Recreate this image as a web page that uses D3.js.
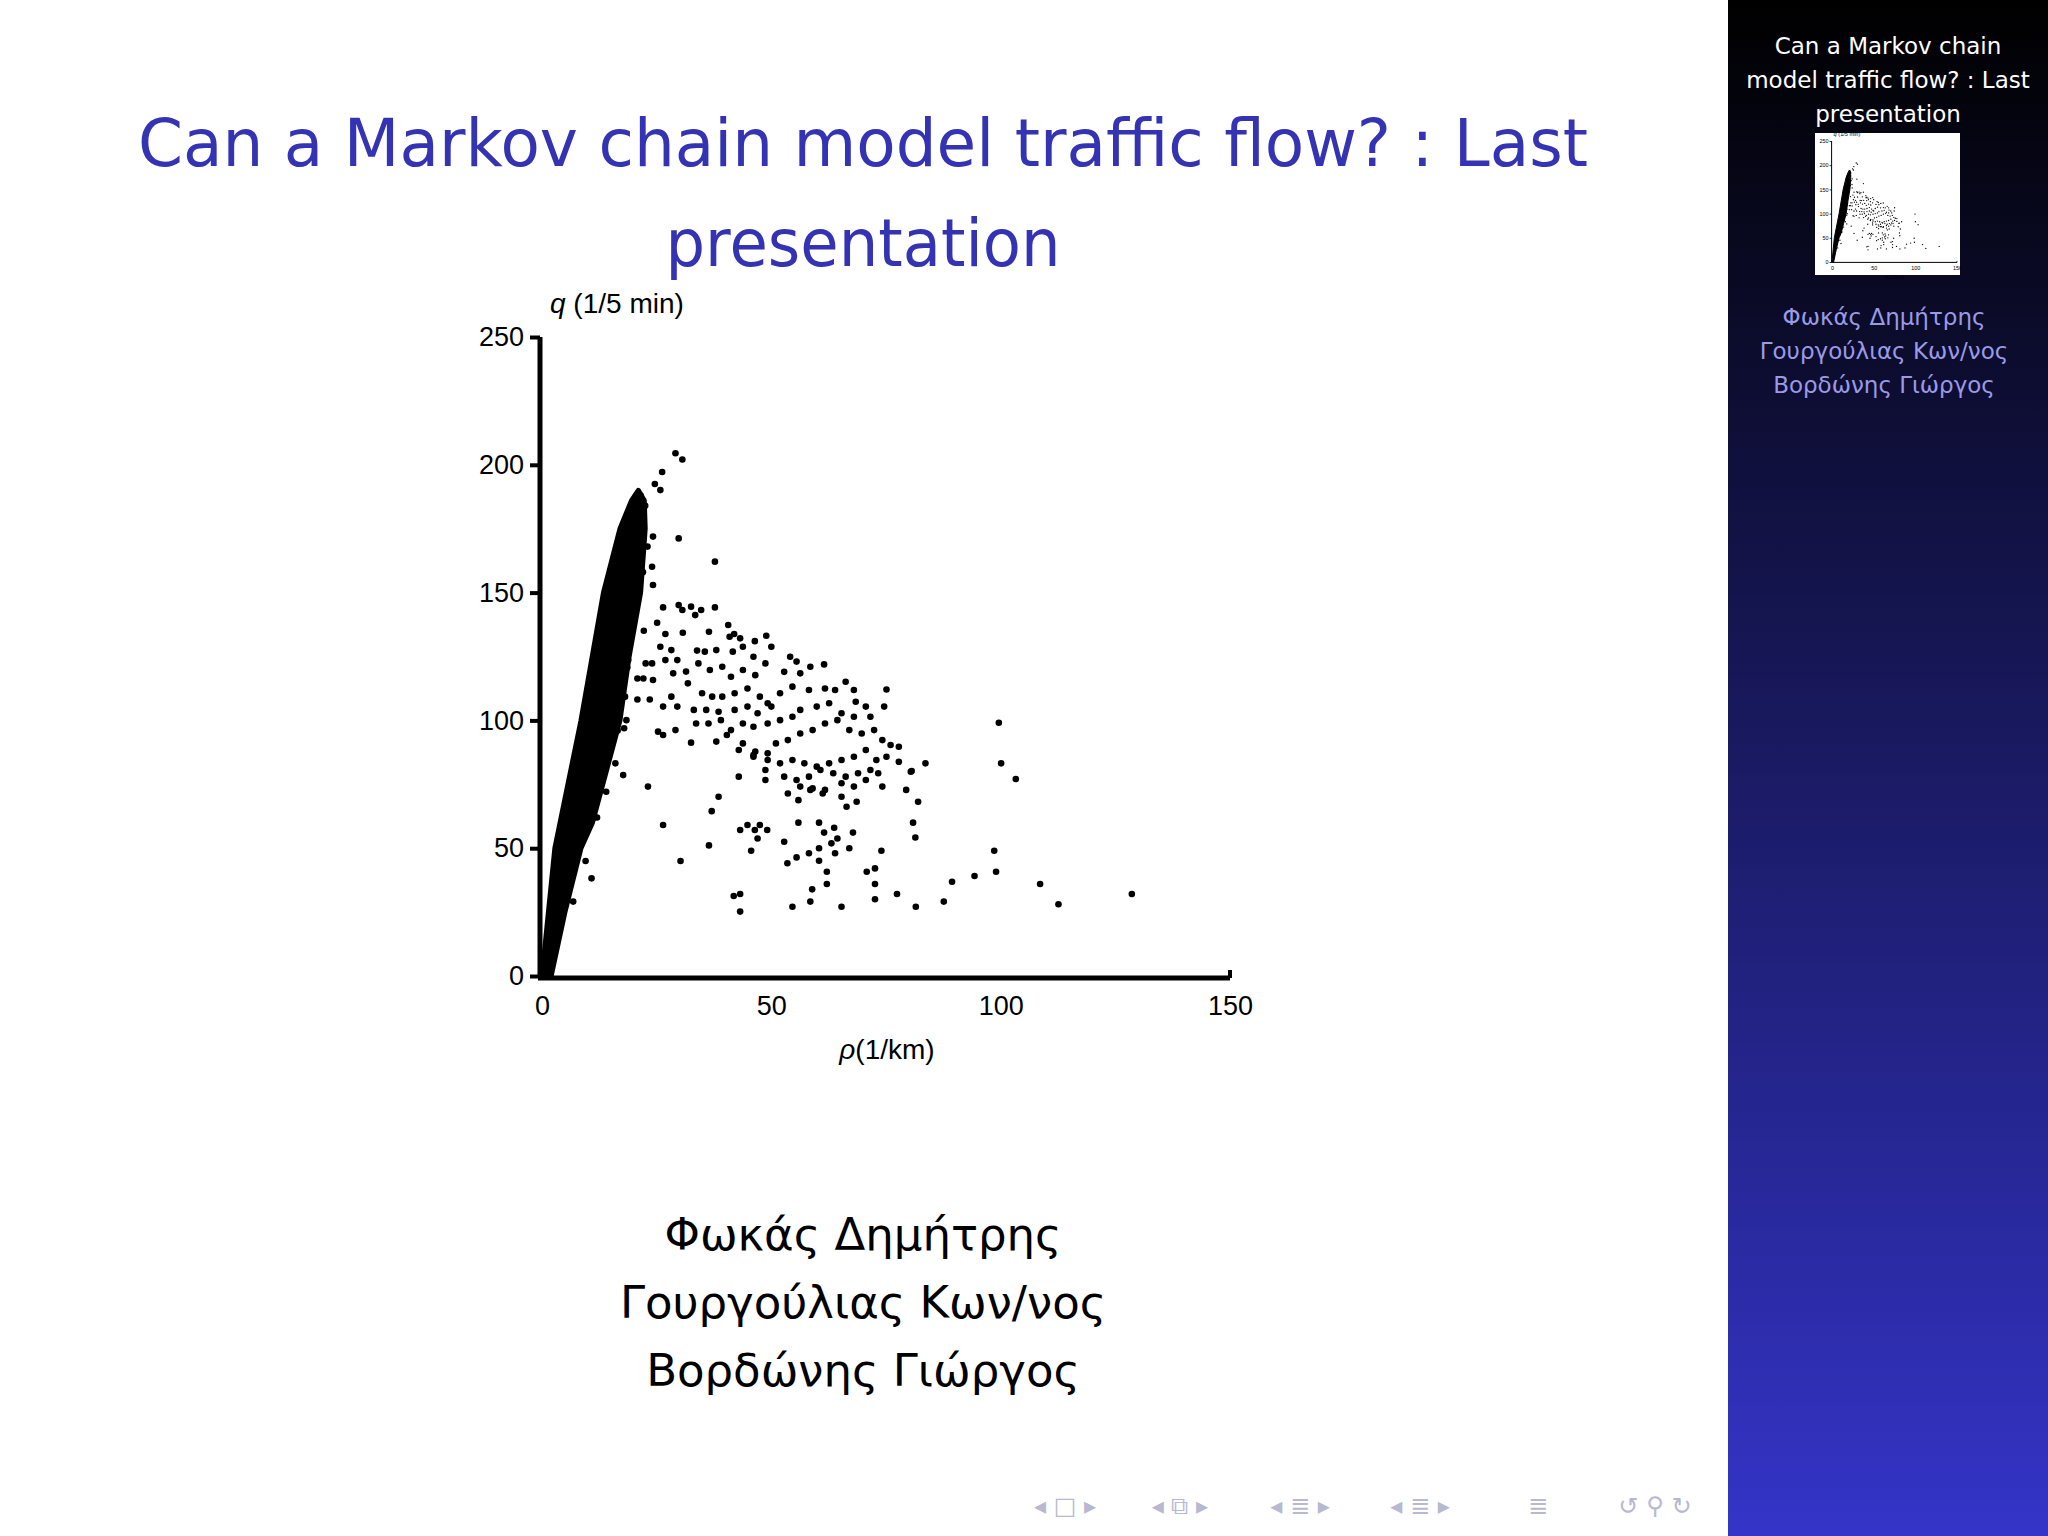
<!DOCTYPE html>
<html><head><meta charset="utf-8">
<script src="https://cdn.jsdelivr.net/npm/d3@7"></script>
<style>body{margin:0;background:#fff}svg{display:block}</style>
</head><body>
<script>
const title1 = "Can a Markov chain model traffic flow? : Last";
const title2 = "presentation";
const sideTitle = ["Can a Markov chain", "model traffic flow? : Last", "presentation"];
const authors = ["Φωκάς Δημήτρης", "Γουργούλιας Κων/νος", "Βορδώνης Γιώργος"];
const xTicks = [0, 50, 100, 150];
const yTicks = [0, 50, 100, 150, 200, 250];
// dense free-flow wedge outline (density, flow)
const wedgeRho = [0, 2.8, 8.5, 13.4, 17, 19.5, 21, 22.3, 22.5, 21.5, 19, 17, 14, 11, 8.5, 5, 2];
const wedgeQ   = [0, 50, 100, 150, 175, 186, 190, 186, 175, 150, 125, 100, 80, 60, 50, 25, 0];
// scattered observations
const rho = [29.1,30.6,26.2,24.6,25.8,29.8,37.7,24.2,24.0,24.2,26.4,29.8,30.6,32.5,33.4,34.7,37.7,25.1,30.7,26.9,36.4,40.6,22.2,41.9,43.2,46.4,48.9,50.0,40.9,25.8,28.2,29.5,26.9,33.8,35.5,38.0,41.6,43.8,46.1,48.7,54.1,55.5,58.5,61.5,18.8,22.6,24.0,18.6,20.8,22.1,24.2,28.6,31.4,34.1,36.6,39.3,41.2,43.8,46.5,52.8,56.3,31.8,34.9,37.1,39.3,42.0,44.8,47.5,49.2,28.2,18.1,20.8,23.5,26.4,29.5,33.1,35.8,38.5,42.0,44.8,47.0,50.0,51.9,54.6,58.2,61.7,63.9,66.2,68.0,75.1,74.6,70.6,68.4,33.6,36.3,39.0,41.2,43.8,46.1,49.2,51.9,54.6,56.3,59.9,62.6,65.3,68.0,71.6,18.4,17.9,25.3,26.4,29.1,32.5,38.0,40.3,43.8,46.5,49.2,51.0,53.6,56.3,59.0,61.7,64.4,67.0,69.7,72.4,74.2,76.0,77.8,70.6,68.0,65.3,62.6,59.9,57.2,54.6,51.9,49.2,46.1,42.9,75.1,72.9,77.8,71.6,68.9,66.2,63.5,60.7,58.2,55.5,52.8,48.7,46.1,83.6,80.4,73.3,70.6,68.0,65.3,61.7,59.0,56.3,53.6,48.7,42.9,74.2,79.4,82.0,68.6,66.4,65.3,61.2,58.5,55.9,99.6,100.1,103.3,16.0,17.7,14.0,23.1,38.5,37.0,26.4,11.2,10.8,6.8,30.2,36.4,43.2,44.8,46.4,47.5,49.1,47.0,45.6,52.8,55.9,60.4,63.7,61.5,67.8,64.4,63.1,60.4,67.0,74.0,63.9,58.2,55.5,53.5,60.4,62.1,70.8,72.6,62.1,72.6,58.9,77.4,72.6,58.5,54.6,65.3,81.5,87.6,89.4,94.3,98.6,99.0,108.6,112.6,128.6,41.8,43.2,43.2,80.9,81.4,80.6,21.5,22.5,20.8,21.9,23.0,22.0,20.5,18.0,16.5,12.0,9.5];
const q   = [204.5,202.1,197.2,192.5,190.1,171.2,162.1,171.9,160.1,153.0,144.2,145.1,143.2,144.5,141.2,143.2,144.2,138.2,134.3,133.8,134.7,137.3,135.1,133.8,132.1,131.0,133.1,128.8,132.7,128.8,127.5,123.6,123.6,127.3,126.9,127.5,126.9,128.8,124.9,122.3,124.9,123.0,121.0,121.9,123.6,122.3,122.3,120.7,116.4,116.4,115.8,118.4,119.1,122.3,119.7,121.0,117.1,119.7,117.7,119.0,118.4,114.5,110.6,109.3,109.3,110.6,112.5,109.3,106.7,109.3,109.3,108.2,108.2,105.4,105.4,104.1,104.1,103.4,104.1,105.4,102.8,105.4,110.6,113.2,111.9,112.5,111.9,115.1,111.9,112.1,105.4,105.4,107.3,98.8,98.8,100.1,96.2,98.8,97.5,98.8,100.1,101.4,104.1,105.4,106.7,102.8,101.4,101.4,100.1,96.9,95.6,94.3,96.2,91.3,91.7,94.3,91.0,87.8,87.1,91.0,92.3,94.9,96.2,98.8,100.1,96.2,94.9,96.2,92.3,90.4,89.7,88.4,85.8,84.5,83.2,81.9,83.2,84.5,83.2,84.5,86.4,88.4,85.8,84.5,83.8,80.6,79.3,78.0,79.3,80.6,78.0,76.7,78.0,80.6,85.8,83.2,79.9,79.3,76.7,74.1,75.4,72.8,73.4,74.1,71.4,76.7,78.0,74.1,72.8,68.2,68.2,66.2,70.1,71.4,72.8,68.8,99.1,83.2,77.1,83.2,78.6,72.1,74.1,70.1,64.5,59.1,61.7,38.2,29.1,45.0,51.1,57.1,59.1,57.1,59.1,57.1,53.8,49.0,52.5,60.0,60.0,58.0,56.1,56.1,53.8,51.9,50.0,50.0,49.0,48.0,48.0,46.4,44.1,45.1,40.8,40.8,42.1,36.0,36.0,33.9,32.1,30.0,29.1,27.1,27.1,27.1,29.1,36.9,39.1,49.0,40.8,36.0,28.1,32.1,31.3,32.1,25.2,60.0,54.2,80.2,188,184,180,176,168,158,146,118,96,62,45];

const W = 2048, H = 1536;
const svg = d3.select("body").append("svg").attr("width", W).attr("height", H);
const defs = svg.append("defs");
const g = defs.append("linearGradient").attr("id","side").attr("x1",0).attr("y1",0).attr("x2",0).attr("y2",1);
g.append("stop").attr("offset","0%").attr("stop-color","#000000");
g.append("stop").attr("offset","100%").attr("stop-color","#3434c8");
svg.append("rect").attr("x",1728).attr("y",0).attr("width",320).attr("height",H).attr("fill","url(#side)");

const blue = "#3333b3";
const tf = "'DejaVu Sans', Lato, sans-serif";
svg.append("text").attr("x",863).attr("y",166).attr("text-anchor","middle").attr("font-family",tf).attr("font-size",66).attr("textLength",1450).attr("lengthAdjust","spacingAndGlyphs").attr("fill",blue).text(title1);
svg.append("text").attr("x",863).attr("y",266).attr("text-anchor","middle").attr("font-family",tf).attr("font-size",66).attr("textLength",395).attr("lengthAdjust","spacingAndGlyphs").attr("fill",blue).text(title2);

function drawChart(root, x0, x1, y0, y1, s) {
  const x = d3.scaleLinear().domain([0,150]).range([x0,x1]);
  const y = d3.scaleLinear().domain([0,250]).range([y0,y1]);
  const pts = wedgeRho.map((r,i)=>[x(r), y(wedgeQ[i])]);
  root.append("path").attr("d", d3.line().curve(d3.curveLinearClosed)(pts)).attr("fill","#000").attr("stroke","#000").attr("stroke-width",5*s).attr("stroke-linejoin","round");
  root.append("g").selectAll("circle").data(rho.map((r,i)=>[r,q[i]])).join("circle")
    .attr("cx",d=>x(d[0])).attr("cy",d=>y(d[1])).attr("r",3.3*s).attr("fill","#000");
  const fs = 27*s;
  const ya = root.append("g").attr("transform",`translate(${x0-2*s},0)`).call(d3.axisLeft(y).tickValues(yTicks).tickSize(10*s).tickPadding(6*s));
  const xa = root.append("g").attr("transform",`translate(0,${y0+2*s})`).call(d3.axisBottom(x).tickValues(xTicks).tickSize(0).tickPadding(18*s));
  [ya, xa].forEach(a=>{
    a.select(".domain").attr("stroke-width",5*s).attr("stroke","#000");
    a.selectAll(".tick line").attr("stroke-width",4*s).attr("stroke","#000");
    a.selectAll("text").attr("font-family","'Liberation Sans', Arial, sans-serif").attr("font-size",fs).attr("fill","#000");
  });
  ya.select(".domain").attr("d",`M0,${y0+2*s}V${y1}`);
  xa.select(".domain").attr("d",`M${x0-4*s},0H${x1}`);
  root.append("line").attr("x1",x1).attr("x2",x1).attr("y1",y0+2*s).attr("y2",y0-6*s).attr("stroke","#000").attr("stroke-width",4*s);
  root.append("text").attr("x",x0+8*s).attr("y",y1-24*s).attr("font-family","'Liberation Sans', Arial, sans-serif").attr("font-size",28*s)
    .html(`<tspan font-style="italic">q</tspan> (1/5 min)`);
  root.append("text").attr("x",x(75)+1*s).attr("y",y0+83*s).attr("text-anchor","middle").attr("font-family","'Liberation Sans', Arial, sans-serif").attr("font-size",28*s)
    .html(`<tspan font-style="italic">ρ</tspan>(1/km)`);
}
drawChart(svg.append("g"), 542, 1230, 976, 337, 1);

// sidebar
sideTitle.forEach((t,i)=>svg.append("text").attr("x",1888).attr("y",54+i*34).attr("text-anchor","middle").attr("font-family",tf).attr("font-size",23).attr("fill","#fff").text(t));
svg.append("rect").attr("x",1815).attr("y",133).attr("width",145).attr("height",142).attr("fill","#fff");
drawChart(svg.append("g"), 1832, 1957, 262, 141, 0.2);
authors.forEach((t,i)=>svg.append("text").attr("x",1884).attr("y",325+i*34).attr("text-anchor","middle").attr("font-family",tf).attr("font-size",23).attr("fill","#9a9ae6").text(t));

authors.forEach((t,i)=>svg.append("text").attr("x",863).attr("y",1250+i*68).attr("text-anchor","middle").attr("font-family",tf).attr("font-size",45).attr("fill","#000").text(t));

const nav = ["◂ □ ▸","◂ ⧉ ▸","◂ ≣ ▸","◂ ≣ ▸","≣","↺ ⚲ ↻"];
const navX = [1065,1180,1300,1420,1538,1655];
nav.forEach((t,i)=>svg.append("text").attr("x",navX[i]).attr("y",1514).attr("text-anchor","middle").attr("font-family","'DejaVu Sans', sans-serif").attr("font-size",24).attr("fill","#b8b8d0").text(t));
</script>
</body></html>
